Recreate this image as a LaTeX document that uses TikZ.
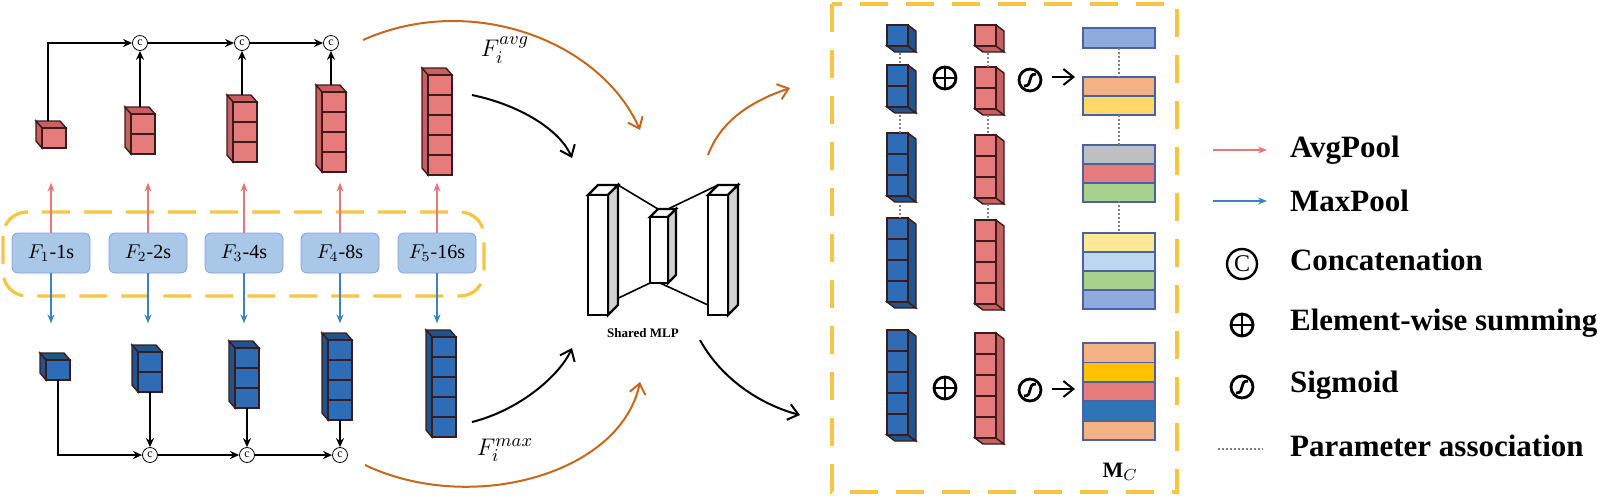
\documentclass[tikz,border=0pt]{standalone}
\usepackage{fontspec}
\setmainfont{Liberation Serif}
\usetikzlibrary{arrows.meta}
\definecolor{rf}{HTML}{E57B7B}\definecolor{rs}{HTML}{C95F61}
\definecolor{bf}{HTML}{2E6CB5}\definecolor{bs}{HTML}{1F548F}
\definecolor{ol}{HTML}{3A1C1C}\definecolor{yel}{HTML}{F7C543}
\definecolor{org}{HTML}{C8661E}\definecolor{fbox}{HTML}{A9C7E6}
\definecolor{pk}{HTML}{E8767A}\definecolor{bl}{HTML}{3B82C8}
\definecolor{cA}{HTML}{8FAADC}\definecolor{cB}{HTML}{F4B183}\definecolor{cC}{HTML}{FFD966}
\definecolor{cG}{HTML}{BFBFBF}\definecolor{cN}{HTML}{A9D18E}\definecolor{cY}{HTML}{FFE699}
\definecolor{cL}{HTML}{BDD7EE}\definecolor{cO}{HTML}{FFC000}\definecolor{cD}{HTML}{2E75B6}
\definecolor{bord}{HTML}{4A62A0}
\newcommand\stkL[5]{%
 \pgfmathsetmacro\stYb{#2+#3*20}\pgfmathsetmacro\stXr{#1+24}%
 \filldraw[fill=#5,draw=ol,line width=0.7pt] (#1,#2)--(\stXr,#2)--(\stXr-6,#2-7)--(#1-6,#2-7)--cycle;%
 \filldraw[fill=#5,draw=ol,line width=0.7pt] (#1,#2)--(#1,\stYb)--(#1-6,\stYb-7)--(#1-6,#2-7)--cycle;%
 \filldraw[fill=#4,draw=ol,line width=0.9pt] (#1,#2) rectangle (\stXr,\stYb);%
 \foreach \k in {1,...,#3}{\draw[ol,line width=0.9pt] (#1,#2+\k*20)--(\stXr,#2+\k*20);}%
}
\newcommand\stkR[5]{%
 \pgfmathsetmacro\stYb{#2+#3*21}\pgfmathsetmacro\stXr{#1+21}%
 \filldraw[fill=#5,draw=ol,line width=0.7pt] (#1,\stYb)--(\stXr,\stYb)--(\stXr+8,\stYb+6)--(#1+8,\stYb+6)--cycle;%
 \filldraw[fill=#5,draw=ol,line width=0.7pt] (\stXr,#2)--(\stXr+8,#2+6)--(\stXr+8,\stYb+6)--(\stXr,\stYb)--cycle;%
 \filldraw[fill=#4,draw=ol,line width=0.9pt] (#1,#2) rectangle (\stXr,\stYb);%
 \foreach \k in {1,...,#3}{\draw[ol,line width=0.9pt] (#1,#2+\k*21)--(\stXr,#2+\k*21);}%
}
\newcommand\bars[3]{%
 \foreach \c [count=\i from 0] in {#3}{\filldraw[fill=\c,draw=bord,line width=0.9pt] (1083,#1+\i*#2) rectangle (1155,#1+\i*#2+#2);}%
}
\begin{document}
\begin{tikzpicture}[x=0.5pt,y=-0.5pt,
 cc/.style={circle,draw,inner sep=0pt,minimum size=7.5pt,font=\fontsize{6}{6}\selectfont,fill=white},
 blk/.style={-{Stealth[length=4.5pt,width=4pt]},line width=0.7pt},
 pka/.style={-{Stealth[length=4.5pt,width=3.5pt]},pk,line width=0.7pt},
 bla/.style={-{Stealth[length=4.5pt,width=3.5pt]},bl,line width=0.7pt},
 barb/.style={-{Straight Barb[length=5pt,width=8pt]},line width=1pt},
 fb/.style={rectangle,rounded corners=3pt,fill=fbox,draw=fbox!80!blue,minimum width=39pt,minimum height=20pt,font=\fontsize{10}{10}\selectfont},
 leg/.style={anchor=west,font=\fontsize{15.5}{15.5}\selectfont\bfseries},
 dot/.style={densely dotted,gray,line width=1pt},
 oplus/.pic={\draw[line width=1.4pt] (0,0) circle (11); \draw[line width=1.4pt] (-11,0)--(11,0) (0,-11)--(0,11);},
 sigm/.pic={\draw[line width=1.4pt] (0,0) circle (11); \draw[line width=1.4pt] (-6,6) .. controls (4,6) and (-4,-6) .. (6,-6);}]
% left dashed box
\draw[yel,line width=1.6pt,dash pattern=on 14pt off 7pt,rounded corners=12pt] (3,212) rectangle (484,296);
\foreach \x/\i/\s in {51/1/1s,148/2/2s,244/3/4s,340/4/8s,437/5/16s}{
 \node[fb] (f\i) at (\x,253) {$F_{\i}$-\s};
 \draw[pka] (f\i.north) -- ++(0,-50);
 \draw[bla] (f\i.south) -- ++(0,50);
}
\stkL{42}{128}{1}{rf}{rs}
\stkL{131}{114}{2}{rf}{rs}
\stkL{233}{102}{3}{rf}{rs}
\stkL{322}{92}{4}{rf}{rs}
\stkL{428}{75}{5}{rf}{rs}
\stkL{46}{360}{1}{bf}{bs}
\stkL{138}{352}{2}{bf}{bs}
\stkL{235}{348}{3}{bf}{bs}
\stkL{328}{340}{4}{bf}{bs}
\stkL{432}{337}{5}{bf}{bs}
\node[cc] (c1) at (140,43) {c};
\node[cc] (c2) at (242,43) {c};
\node[cc] (c3) at (331,43) {c};
\coordinate (r1) at (48,121);\coordinate (r2) at (140,107);\coordinate (r3) at (242,95);\coordinate (r4) at (331,85);
\draw[blk] (r1) |- (c1);
\draw[blk] (c1) -- (c2); \draw[blk] (c2) -- (c3);
\draw[blk] (r2) -- (c1); \draw[blk] (r3) -- (c2); \draw[blk] (r4) -- (c3);
\node[cc] (d1) at (150,455) {c};
\node[cc] (d2) at (247,455) {c};
\node[cc] (d3) at (340,455) {c};
\coordinate (b1) at (58,380);\coordinate (b2) at (150,392);\coordinate (b3) at (247,408);\coordinate (b4) at (340,420);
\draw[blk] (b1) |- (d1);
\draw[blk] (d1) -- (d2); \draw[blk] (d2) -- (d3);
\draw[blk] (b2) -- (d1); \draw[blk] (b3) -- (d2); \draw[blk] (b4) -- (d3);
\coordinate (oa) at (363,40);\coordinate (oA) at (640,130);
\coordinate (ob) at (365,465);\coordinate (oB) at (640,382);
\draw[barb,org] (oa) .. controls (470,-8) and (600,40) .. (oA);
\draw[barb,org] (ob) .. controls (470,515) and (620,475) .. (oB);
\coordinate (ka) at (472,95);\coordinate (kA) at (572,158);
\coordinate (kb) at (472,422);\coordinate (kB) at (572,348);
\draw[barb] (ka) .. controls (520,105) and (560,130) .. (kA);
\draw[barb] (kb) .. controls (520,410) and (560,375) .. (kB);
\node[font=\fontsize{13}{13}\selectfont] (lavg) at (505,50) {$F_i^{avg}$};
\node[font=\fontsize{13}{13}\selectfont] (lmax) at (505,450) {$F_i^{max}$};
\draw[line width=0.8pt] (618,185)--(658,209) (608,303)--(650,283) (668,209)--(718,185) (660,283)--(708,305);
\foreach \xa/\ya/\w/\hh/\d in {588/195/20/120/10, 650/217/18/66/8, 708/195/20/120/10}{
 \filldraw[fill=white,line width=1.1pt] (\xa,\ya)--(\xa+\d,\ya-\d)--(\xa+\w+\d,\ya-\d)--(\xa+\w,\ya)--cycle;
 \filldraw[fill=gray!35,line width=1.1pt] (\xa+\w,\ya)--(\xa+\w+\d,\ya-\d)--(\xa+\w+\d,\ya+\hh-\d)--(\xa+\w,\ya+\hh)--cycle;
 \filldraw[fill=white,line width=1.1pt] (\xa,\ya) rectangle (\xa+\w,\ya+\hh);
}
\node[font=\fontsize{6.5}{6.5}\selectfont\bfseries] (mlp) at (643,333) {Shared MLP};
\coordinate (pa) at (708,155);\coordinate (pA) at (790,88);
\coordinate (pb) at (700,340);\coordinate (pB) at (800,415);
\draw[barb,org] (pa) .. controls (722,118) and (755,100) .. (pA);
\draw[barb] (pb) .. controls (722,380) and (762,405) .. (pB);
\draw[yel,line width=2pt,dash pattern=on 14pt off 9pt] (832,4) rectangle (1177,492);
\foreach \y/\n in {25/1,65/2,133/3,218/4,330/5}{\stkR{887}{\y}{\n}{bf}{bs}}
\foreach \y/\n in {25/1,67/2,135/3,220/4,333/5}{\stkR{975}{\y}{\n}{rf}{rs}}
\draw[dot] (900,53)--(900,65) (900,115)--(900,133) (900,205)--(900,218);
\draw[dot] (988,53)--(988,67) (988,115)--(988,135) (988,204)--(988,220);
\bars{28}{20}{cA}
\bars{77}{19}{cB,cC}
\bars{145}{19}{cG,rf,cN}
\bars{233}{19}{cY,cL,cN,cA}
\bars{343}{19.4}{cB,cO,rf,cD,cB}
\draw[dot] (1119,48)--(1119,77) (1119,115)--(1119,145) (1119,201)--(1119,233);
\pic at (945,78) {oplus}; \pic at (945,388) {oplus};
\pic at (1030,80) {sigm}; \pic at (1030,390) {sigm};
\coordinate (s1) at (1052,77);\coordinate (t1) at (1075,77);
\coordinate (s2) at (1052,389);\coordinate (t2) at (1075,389);
\draw[barb] (s1)--(t1); \draw[barb] (s2)--(t2);
\node[font=\fontsize{11}{11}\selectfont] (mc) at (1120,472) {$\mathbf{M}_C$};
\coordinate (la1) at (1213,150);\coordinate (la2) at (1267,150);
\coordinate (lb1) at (1213,201);\coordinate (lb2) at (1267,201);
\draw[pka,line width=1pt] (la1)--(la2); \draw[bla,line width=1pt] (lb1)--(lb2);
\node[circle,draw,line width=1.2pt,minimum size=15pt,inner sep=0pt,font=\fontsize{12}{12}\selectfont] (lc) at (1242,264) {C};
\pic at (1242,325) {oplus}; \pic at (1242,387) {sigm};
\draw[dot] (1218,449)--(1263,449);
\node[leg] (t1l) at (1283,150) {AvgPool};
\node[leg] (t2l) at (1283,201) {MaxPool};
\node[leg] (t3l) at (1283,260) {Concatenation};
\node[leg] (t4l) at (1283,323) {Element-wise summing};
\node[leg] (t5l) at (1283,385) {Sigmoid};
\node[leg] (t6l) at (1283,446) {Parameter association};
\pgfresetboundingbox
\path[use as bounding box] (0,0) rectangle (1600,495);
\end{tikzpicture}
\end{document}
